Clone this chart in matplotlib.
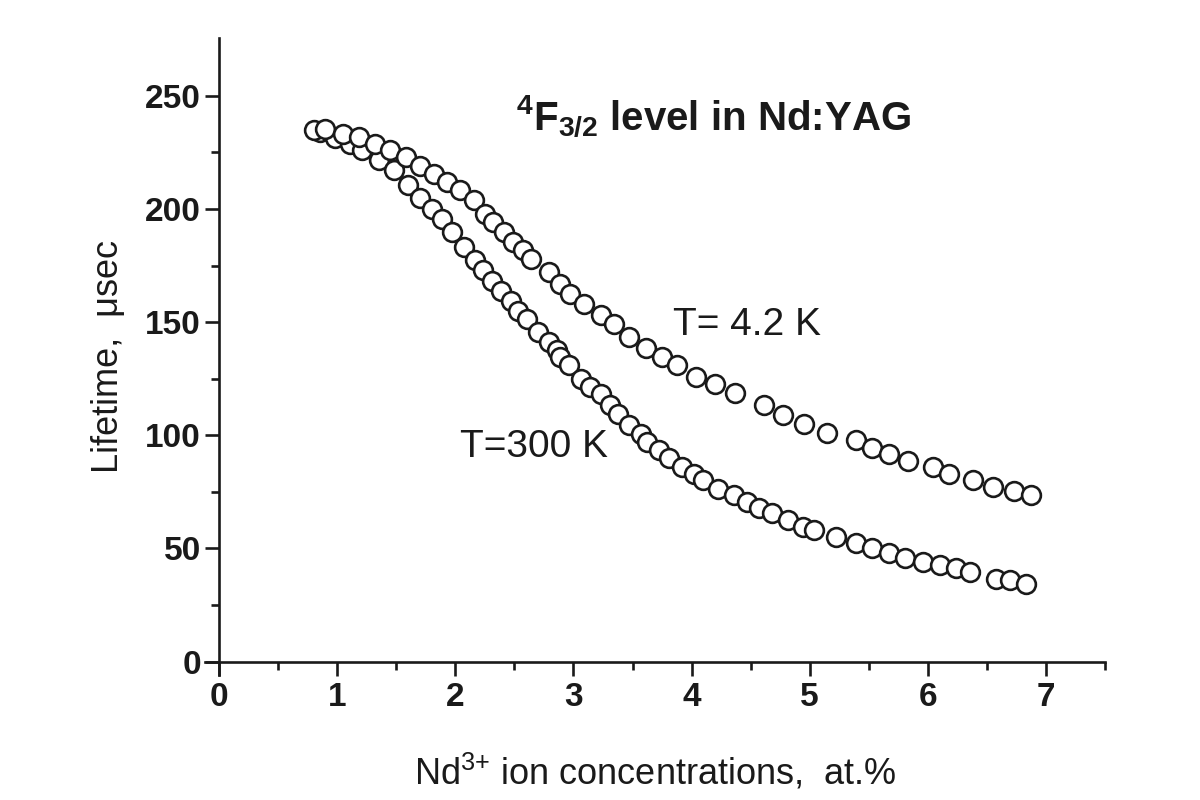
import numpy as np
import matplotlib
matplotlib.use("Agg")
import matplotlib.pyplot as plt
from matplotlib import font_manager
from matplotlib.ticker import MultipleLocator, FixedLocator

# Nd:YAG 4F3/2 lifetime vs Nd concentration
conc_4k = [0.80, 0.90, 1.05, 1.18, 1.32, 1.45, 1.58, 1.70, 1.82, 1.93,
           2.04, 2.16, 2.25, 2.32, 2.41, 2.49, 2.57, 2.64, 2.79, 2.89,
           2.97, 3.09, 3.23, 3.34, 3.47, 3.61, 3.75, 3.88, 4.04, 4.20,
           4.37, 4.61, 4.77, 4.95, 5.15, 5.39, 5.53, 5.67, 5.83, 6.04,
           6.18, 6.38, 6.55, 6.73, 6.87]
life_4k = [235.1, 235.5, 233.3, 231.8, 228.9, 226.2, 223.0, 218.9, 215.6, 211.9,
           208.3, 204.2, 198.0, 194.3, 189.8, 185.4, 181.8, 177.8, 172.0, 167.0,
           162.6, 158.2, 153.0, 149.1, 143.5, 138.7, 134.6, 131.0, 125.9, 122.9,
           118.5, 113.3, 108.9, 105.2, 101.1, 97.8, 94.2, 91.7, 88.7, 86.0,
           83.1, 80.2, 77.2, 75.4, 73.5]

conc_300k = [0.85, 0.98, 1.11, 1.21, 1.35, 1.48, 1.60, 1.70, 1.80, 1.89,
             1.97, 2.07, 2.17, 2.23, 2.31, 2.39, 2.47, 2.53, 2.61, 2.70,
             2.79, 2.86, 2.89, 2.96, 3.06, 3.14, 3.23, 3.31, 3.38, 3.47,
             3.57, 3.62, 3.72, 3.81, 3.92, 4.02, 4.10, 4.22, 4.36, 4.47,
             4.57, 4.68, 4.82, 4.94, 5.04, 5.22, 5.39, 5.53, 5.67, 5.81,
             5.96, 6.10, 6.24, 6.36, 6.58, 6.70, 6.83]
life_300k = [234.0, 231.5, 228.9, 225.9, 221.5, 217.1, 210.5, 205.0, 200.2, 195.8,
             189.8, 183.2, 177.3, 172.9, 168.0, 163.6, 159.2, 154.8, 151.3, 145.7,
             141.3, 137.6, 134.6, 131.0, 125.1, 121.4, 118.2, 113.3, 109.3, 104.5,
             100.8, 97.1, 93.4, 89.8, 86.0, 83.1, 80.2, 76.5, 73.5, 70.6,
             67.7, 65.5, 62.5, 59.5, 58.1, 55.1, 52.2, 50.0, 47.8, 45.6,
             44.1, 42.6, 41.2, 39.7, 36.7, 36.0, 34.5]

x_ticks = [0, 1, 2, 3, 4, 5, 6, 7]
y_ticks = [0, 50, 100, 150, 200, 250]

names = {f.name for f in font_manager.fontManager.ttflist}
tick_font = "Liberation Sans Narrow" if "Liberation Sans Narrow" in names else "Liberation Sans"

plt.rcParams["font.family"] = ["Liberation Sans", "DejaVu Sans"]
plt.rcParams["mathtext.fontset"] = "custom"
plt.rcParams["mathtext.rm"] = "Liberation Sans"
plt.rcParams["mathtext.bf"] = "Liberation Sans:bold"
plt.rcParams["mathtext.it"] = "Liberation Sans:italic"

ink = "#1a1a1a"
fig = plt.figure(figsize=(12, 8), dpi=100)
ax = fig.add_axes([0.1708, 0.156, 0.75, 0.796])

marker_kw = dict(linestyle="none", marker="o", markersize=13.5,
                 markerfacecolor="white", markeredgecolor=ink, markeredgewidth=1.9)
ax.plot(conc_300k, life_300k, **marker_kw)
ax.plot(conc_4k, life_4k, **marker_kw)

ax.set_xlim(-0.12, 7.5)
ax.set_ylim(-6, 275.4)
ax.spines["left"].set_position(("data", 0))
ax.spines["bottom"].set_position(("data", 0))
for s in ["top", "right"]:
    ax.spines[s].set_visible(False)
for s in ["left", "bottom"]:
    ax.spines[s].set_linewidth(1.9)
    ax.spines[s].set_color(ink)

ax.xaxis.set_major_locator(FixedLocator(x_ticks))
ax.xaxis.set_minor_locator(MultipleLocator(0.5))
ax.yaxis.set_major_locator(FixedLocator(y_ticks))
ax.yaxis.set_minor_locator(FixedLocator(np.arange(25, 250, 50)))
ax.tick_params(which="major", direction="out", length=10, width=1.9, color=ink)
ax.tick_params(which="minor", direction="out", length=5.5, width=1.9, color=ink)
ax.tick_params(axis="x", which="major", pad=5)
ax.tick_params(axis="y", which="major", pad=3)
for lab in ax.get_xticklabels() + ax.get_yticklabels():
    lab.set_fontfamily(tick_font)
    lab.set_fontweight("bold")
    lab.set_fontsize(24)
    lab.set_color(ink)

ax.set_xlabel("Nd$^{3{+}}$ ion concentrations,  at.%", fontsize=26, color=ink, labelpad=28)
ax.set_ylabel("Lifetime,  \u03bcsec", fontsize=26, color=ink, labelpad=14)

ax.text(2.51, 241, r"$\mathbf{^{4}}$F$\mathbf{_{3/2}}$ level in Nd:YAG",
        fontsize=29, fontweight="bold", color=ink, ha="left", va="center")
ax.text(3.84, 148.6, "T= 4.2 K", fontsize=28, color=ink, ha="left", va="center")
ax.text(2.04, 94.7, "T=300 K", fontsize=28, color=ink, ha="left", va="center")

fig.savefig("out.png", dpi=100)
